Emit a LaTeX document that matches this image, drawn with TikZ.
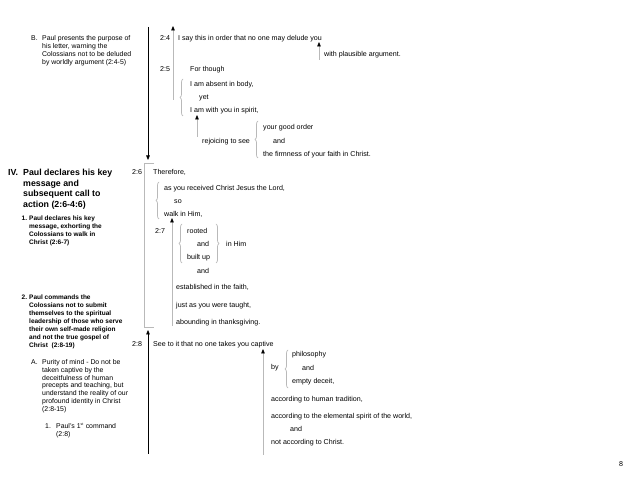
\documentclass[tikz,border=0pt]{standalone}
\usepackage{fontspec}
\setmainfont{Liberation Sans}
\usetikzlibrary{arrows.meta,decorations.pathreplacing}
\begin{document}
\begin{tikzpicture}[x=1pt,y=-1pt,
  txt/.style={anchor=base west,inner sep=0pt,font=\fontsize{7.1}{8.5}\selectfont},
  ltxt/.style={anchor=base west,inner sep=0pt,font=\fontsize{6.9}{8}\selectfont},
  hd/.style={anchor=base west,inner sep=0pt,font=\fontsize{8.8}{10.5}\selectfont\bfseries},
  sub/.style={anchor=base west,inner sep=0pt,font=\fontsize{6.5}{8}\selectfont\bfseries},
  gline/.style={draw=gray!55,line width=0.7pt},
  garrow/.style={gline,-{Triangle[length=4.5pt,width=3.6pt,black]}},
  barrow/.style={draw=black,line width=0.7pt,-{Triangle[length=4.5pt,width=3.6pt]}},
  brc/.style={gline,decorate,decoration={brace,amplitude=3pt}},
]
\useasboundingbox[fill=white] (0,0) rectangle (638,478);

% ---------- left column ----------
\node[ltxt] (Bl) at (31,40.5) {B.};
\foreach \s [count=\i] in {Paul presents the purpose of, {his letter, warning the}, Colossians not to be deluded, {by worldly argument (2:4-5)}}
  \node[ltxt] (B\i) at (42,32.5+8*\i) {\s};

\node[hd] (IVl) at (8,176) {IV.};
\foreach \s [count=\i] in {Paul declares his key, message and, subsequent call to, {action (2:6-4:6)}}
  \node[hd] (IV\i) at (23,165.5+10.5*\i) {\s};

\node[sub] (Ol) at (21.5,221) {1.};
\foreach \s [count=\i] in {Paul declares his key, {message, exhorting the}, Colossians to walk in, {Christ (2:6-7)}}
  \node[sub] (O\i) at (29,213+8*\i) {\s};

\node[sub] (Tl) at (21.5,299.5) {2.};
\foreach \s [count=\i] in {Paul commands the, Colossians not to submit, themselves to the spiritual, leadership of those who serve, their own self-made religion, and not the true gospel of, {Christ~~(2:8-19)}}
  \node[sub] (T\i) at (29,291.5+8*\i) {\s};

\node[ltxt] (Al) at (31,364.5) {A.};
\foreach \s [count=\i] in {Purity of mind - Do not be, taken captive by the, deceitfulness of human, {precepts and teaching, but}, understand the reality of our, profound identity in Christ, {(2:8-15)}}
  \node[ltxt] (A\i) at (42,356.7+7.8*\i) {\s};

\node[ltxt] (Sl) at (45,428.5) {1.};
\node[ltxt] (S1) at (56,428.5) {Paul's 1\textsuperscript{\fontsize{3.5}{4}\selectfont st} command};
\node[ltxt] (S2) at (56,436.5) {(2:8)};

% ---------- right column ----------
\node[txt] (v24) at (160,40.5) {2:4};
\node[txt] (say) at (178,40.5) {I say this in order that no one may delude you};
\node[txt] (plaus) at (324,56.5) {with plausible argument.};
\node[txt] (v25) at (160,71.5) {2:5};
\node[txt] (though) at (190,71.5) {For though};
\node[txt] (absent) at (190,86.5) {I am absent in body,};
\node[txt] (yet) at (199,99.5) {yet};
\node[txt] (withyou) at (190,112.5) {I am with you in spirit,};
\node[txt] (rejoice) at (202,143.5) {rejoicing to see};
\node[txt] (order) at (263,129.5) {your good order};
\node[txt] (and1) at (273,143.5) {and};
\node[txt] (firm) at (263,156.5) {the firmness of your faith in Christ.};

\node[txt] (v26) at (132,174.5) {2:6};
\node[txt] (there) at (153,174.5) {Therefore,};
\node[txt] (recv) at (164,190.5) {as you received Christ Jesus the Lord,};
\node[txt] (so) at (174,203.5) {so};
\node[txt] (walk) at (164,216.5) {walk in Him,};
\node[txt] (v27) at (155,233.5) {2:7};
\node[txt] (rooted) at (187,233.5) {rooted};
\node[txt] (and2) at (197,246.5) {and};
\node[txt] (built) at (187,259.5) {built up};
\node[txt] (inhim) at (226,246.5) {in Him};
\node[txt] (and3) at (197,273.5) {and};
\node[txt] (estab) at (176,289.5) {established in the faith,};
\node[txt] (taught) at (176,307.5) {just as you were taught,};
\node[txt] (abound) at (176,324.5) {abounding in thanksgiving.};

\node[txt] (v28) at (132,346.5) {2:8};
\node[txt] (see) at (153,346.5) {See to it that no one takes you captive};
\node[txt] (by) at (271,370) {by};
\node[txt] (philo) at (292,356.5) {philosophy};
\node[txt] (and4) at (302,370.5) {and};
\node[txt] (deceit) at (292,383.5) {empty deceit,};
\node[txt] (trad) at (271,401.5) {according to human tradition,};
\node[txt] (elem) at (271,418.5) {according to the elemental spirit of the world,};
\node[txt] (and5) at (290,431.5) {and};
\node[txt] (notc) at (271,444.5) {not according to Christ.};

\node[txt] (page) at (619,466.5) {8};

% ---------- connectors ----------
\coordinate (k1a) at (148,27);  \coordinate (k1b) at (148,160);
\coordinate (k2a) at (148,454); \coordinate (k2b) at (148,330);
\draw[barrow] (k1a) -- (k1b);
\draw[barrow] (k2a) -- (k2b);

\coordinate (g1) at (154,163); \coordinate (g2) at (144,163);
\coordinate (g3) at (144,327); \coordinate (g4) at (154,327);
\draw[gline] (g1) -- (g2) -- (g3) -- (g4);

\coordinate (a1a) at (173,100); \coordinate (a1b) at (173,26);
\draw[garrow] (a1a) -- (a1b);
\coordinate (a2a) at (319,60); \coordinate (a2b) at (319,42);
\draw[garrow] (a2a) -- (a2b);
\coordinate (a3a) at (197,137); \coordinate (a3b) at (197,115);
\draw[garrow] (a3a) -- (a3b);
\coordinate (a4a) at (172,326); \coordinate (a4b) at (172,218);
\draw[garrow] (a4a) -- (a4b);
\coordinate (a5a) at (263,455); \coordinate (a5b) at (263,349);
\draw[garrow] (a5a) -- (a5b);

% ---------- braces ----------
\draw[brc] (183,116) -- (183,79);
\draw[brc] (258,158) -- (258,121);
\draw[brc] (159,219) -- (159,182);
\draw[brc] (182,263) -- (182,224);
\draw[brc] (216,224) -- (216,263);
\draw[brc] (288,388) -- (288,350);
\end{tikzpicture}
\end{document}
